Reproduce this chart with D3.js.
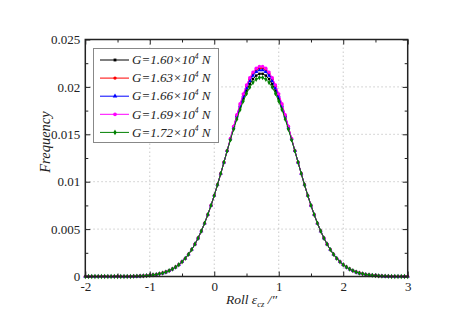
<!DOCTYPE html>
<html><head><meta charset="utf-8">
<script src="https://cdn.jsdelivr.net/npm/d3@7"></script>
<style>body{margin:0;background:#fff}svg{display:block}</style>
</head><body>
<svg id="c" width="474" height="332"></svg>
<script>
const xVals = [-2,-1.95,-1.9,-1.85,-1.8,-1.75,-1.7,-1.65,-1.6,-1.55,-1.5,-1.45,-1.4,-1.35,-1.3,-1.25,-1.2,-1.15,-1.1,-1.05,-1,-0.95,-0.9,-0.85,-0.8,-0.75,-0.7,-0.65,-0.6,-0.55,-0.5,-0.45,-0.4,-0.35,-0.3,-0.25,-0.2,-0.15,-0.1,-0.05,0,0.05,0.1,0.15,0.2,0.25,0.3,0.35,0.4,0.45,0.5,0.55,0.6,0.65,0.7,0.75,0.8,0.85,0.9,0.95,1,1.05,1.1,1.15,1.2,1.25,1.3,1.35,1.4,1.45,1.5,1.55,1.6,1.65,1.7,1.75,1.8,1.85,1.9,1.95,2,2.05,2.1,2.15,2.2,2.25,2.3,2.35,2.4,2.45,2.5,2.55,2.6,2.65,2.7,2.75,2.8,2.85,2.9,2.95,3];

const g160 = [0,0,0,0,0,0,0,0,0,0,0,0,0,0,0,0.00002,0.00003,0.00005,0.00006,0.00009,0.00012,0.00016,0.00021,0.00028,0.00036,0.00047,0.00061,0.00078,0.00099,0.00124,0.00155,0.00191,0.00234,0.00283,0.00341,0.00406,0.00480,0.00562,0.00652,0.00750,0.00855,0.00967,0.01084,0.01204,0.01326,0.01446,0.01564,0.01676,0.01781,0.01877,0.01960,0.02029,0.02083,0.02119,0.02138,0.02138,0.02119,0.02083,0.02029,0.01960,0.01877,0.01781,0.01676,0.01564,0.01446,0.01326,0.01204,0.01084,0.00967,0.00855,0.00750,0.00652,0.00562,0.00480,0.00406,0.00341,0.00283,0.00234,0.00191,0.00155,0.00124,0.00099,0.00078,0.00061,0.00047,0.00036,0.00028,0.00021,0.00016,0.00012,0.00009,0.00006,0.00005,0.00003,0.00002,0,0,0,0,0,0];
const g163 = [0,0,0,0,0,0,0,0,0,0,0,0,0,0,0,0.00002,0.00003,0.00005,0.00006,0.00009,0.00012,0.00016,0.00021,0.00028,0.00036,0.00047,0.00061,0.00078,0.00099,0.00124,0.00155,0.00191,0.00234,0.00283,0.00341,0.00406,0.00480,0.00562,0.00652,0.00750,0.00855,0.00967,0.01084,0.01204,0.01326,0.01454,0.01579,0.01699,0.01812,0.01915,0.02005,0.02080,0.02138,0.02177,0.02197,0.02197,0.02177,0.02138,0.02080,0.02005,0.01915,0.01812,0.01699,0.01579,0.01454,0.01326,0.01204,0.01084,0.00967,0.00855,0.00750,0.00652,0.00562,0.00480,0.00406,0.00341,0.00283,0.00234,0.00191,0.00155,0.00124,0.00099,0.00078,0.00061,0.00047,0.00036,0.00028,0.00021,0.00016,0.00012,0.00009,0.00006,0.00005,0.00003,0.00002,0,0,0,0,0,0];
const g166 = [0,0,0,0,0,0,0,0,0,0,0,0,0,0,0,0.00002,0.00003,0.00005,0.00006,0.00009,0.00012,0.00016,0.00021,0.00028,0.00036,0.00047,0.00061,0.00078,0.00099,0.00124,0.00155,0.00191,0.00234,0.00283,0.00341,0.00406,0.00480,0.00562,0.00652,0.00750,0.00855,0.00967,0.01084,0.01204,0.01326,0.01451,0.01574,0.01692,0.01802,0.01902,0.01990,0.02063,0.02119,0.02158,0.02178,0.02178,0.02158,0.02119,0.02063,0.01990,0.01902,0.01802,0.01692,0.01574,0.01451,0.01326,0.01204,0.01084,0.00967,0.00855,0.00750,0.00652,0.00562,0.00480,0.00406,0.00341,0.00283,0.00234,0.00191,0.00155,0.00124,0.00099,0.00078,0.00061,0.00047,0.00036,0.00028,0.00021,0.00016,0.00012,0.00009,0.00006,0.00005,0.00003,0.00002,0,0,0,0,0,0];
const g169 = [0,0,0,0,0,0,0,0,0,0,0,0,0,0,0,0.00002,0.00003,0.00005,0.00006,0.00009,0.00012,0.00016,0.00021,0.00028,0.00036,0.00047,0.00061,0.00078,0.00099,0.00124,0.00155,0.00191,0.00234,0.00283,0.00341,0.00406,0.00480,0.00562,0.00652,0.00750,0.00855,0.00967,0.01084,0.01204,0.01326,0.01456,0.01584,0.01707,0.01822,0.01927,0.02020,0.02096,0.02156,0.02197,0.02217,0.02217,0.02197,0.02156,0.02096,0.02020,0.01927,0.01822,0.01707,0.01584,0.01456,0.01326,0.01204,0.01084,0.00967,0.00855,0.00750,0.00652,0.00562,0.00480,0.00406,0.00341,0.00283,0.00234,0.00191,0.00155,0.00124,0.00099,0.00078,0.00061,0.00047,0.00036,0.00028,0.00021,0.00016,0.00012,0.00009,0.00006,0.00005,0.00003,0.00002,0,0,0,0,0,0];
const g172 = [0,0,0,0,0,0,0,0,0,0,0,0,0,0,0,0.00002,0.00003,0.00005,0.00006,0.00009,0.00012,0.00016,0.00021,0.00028,0.00036,0.00047,0.00061,0.00078,0.00099,0.00124,0.00155,0.00191,0.00234,0.00283,0.00341,0.00406,0.00480,0.00562,0.00652,0.00750,0.00855,0.00967,0.01084,0.01204,0.01326,0.01440,0.01552,0.01660,0.01760,0.01850,0.01929,0.01995,0.02046,0.02080,0.02098,0.02098,0.02080,0.02046,0.01995,0.01929,0.01850,0.01760,0.01660,0.01552,0.01440,0.01326,0.01204,0.01084,0.00967,0.00855,0.00750,0.00652,0.00562,0.00480,0.00406,0.00341,0.00283,0.00234,0.00191,0.00155,0.00124,0.00099,0.00078,0.00061,0.00047,0.00036,0.00028,0.00021,0.00016,0.00012,0.00009,0.00006,0.00005,0.00003,0.00002,0,0,0,0,0,0];

const seriesLabels = ["1.60","1.63","1.66","1.69","1.72"];
const seriesColors = ["#000000","#ff0000","#0000ff","#ff00ff","#008000"];
const xTicks = [-2,-1,0,1,2,3];
const xTickLabels = ["-2","-1","0","1","2","3"];
const xMinor = [-1.5,-0.5,0.5,1.5,2.5];
const yTicks = [0,0.005,0.01,0.015,0.02,0.025];
const yTickLabels = ["0","0.005","0.01","0.015","0.02","0.025"];
const yMinor = [0.0025,0.0075,0.0125,0.0175,0.0225];

const seriesValues = [g160,g163,g166,g169,g172];
const symbols = [d3.symbolSquare,d3.symbolCircle,d3.symbolTriangle,d3.symbolCircle,d3.symbolDiamond];
const symSizes = [6,7,7,9,8];

const L=85.3, R=407.7, T=39.5, B=276.5;
const svg = d3.select("#c");
const font = "'Liberation Serif','Times New Roman',serif";
const x = d3.scaleLinear().domain([-2,3]).range([L,R]);
const y = d3.scaleLinear().domain([0,0.025]).range([B,T]);

// grid
const grid = svg.append("g").attr("stroke","#bdbdbd").attr("stroke-width",0.8).attr("stroke-dasharray","1.5,2.5");
grid.selectAll(".gx").data(xTicks.slice(1,-1)).enter().append("line")
  .attr("x1",d=>x(d)).attr("x2",d=>x(d)).attr("y1",T).attr("y2",B);
grid.selectAll(".gy").data(yTicks.slice(1,-1)).enter().append("line")
  .attr("y1",d=>y(d)).attr("y2",d=>y(d)).attr("x1",L).attr("x2",R);

// series
const line = d3.line().x((d,i)=>x(xVals[i])).y(d=>y(d));
seriesValues.forEach((vals,si)=>{
  const g = svg.append("g");
  g.append("path").attr("d",line(vals)).attr("fill","none").attr("stroke",seriesColors[si]).attr("stroke-width",1);
  g.selectAll("path.m").data(vals).enter().append("path").attr("class","m")
    .attr("d",d3.symbol().type(symbols[si]).size(symSizes[si]))
    .attr("transform",(d,i)=>`translate(${x(xVals[i])},${y(d)})`)
    .attr("fill",seriesColors[si]).attr("stroke","none");
});

// axes
function styleAxis(g){
  g.select(".domain").remove();
  g.selectAll("line").attr("stroke","#222").attr("stroke-width",1);
  g.selectAll("text").attr("font-family",font).attr("font-size",13).attr("fill","#222");
}
svg.append("g").attr("transform",`translate(0,${B})`)
  .call(d3.axisBottom(x).tickValues(xTicks).tickFormat((d,i)=>xTickLabels[i]).tickSize(-5).tickPadding(5)).call(styleAxis);
svg.append("g").attr("transform",`translate(0,${B})`)
  .call(d3.axisBottom(x).tickValues(xMinor).tickFormat("").tickSize(-3)).call(styleAxis);
svg.append("g").attr("transform",`translate(0,${T})`)
  .call(d3.axisTop(x).tickValues(xTicks).tickFormat("").tickSize(-5)).call(styleAxis);
svg.append("g").attr("transform",`translate(0,${T})`)
  .call(d3.axisTop(x).tickValues(xMinor).tickFormat("").tickSize(-3)).call(styleAxis);
svg.append("g").attr("transform",`translate(${L},0)`)
  .call(d3.axisLeft(y).tickValues(yTicks).tickFormat((d,i)=>yTickLabels[i]).tickSize(-5).tickPadding(5)).call(styleAxis);
svg.append("g").attr("transform",`translate(${L},0)`)
  .call(d3.axisLeft(y).tickValues(yMinor).tickFormat("").tickSize(-3)).call(styleAxis);
svg.append("g").attr("transform",`translate(${R},0)`)
  .call(d3.axisRight(y).tickValues(yTicks).tickFormat("").tickSize(-5)).call(styleAxis);
svg.append("g").attr("transform",`translate(${R},0)`)
  .call(d3.axisRight(y).tickValues(yMinor).tickFormat("").tickSize(-3)).call(styleAxis);

svg.append("rect").attr("x",L).attr("y",T).attr("width",R-L).attr("height",B-T)
  .attr("fill","none").attr("stroke","#222").attr("stroke-width",1.5);

// axis titles
const xt = svg.append("text").attr("x",226).attr("y",303.5).attr("text-anchor","start")
  .attr("font-family",font).attr("font-style","italic").attr("font-size",13.5).attr("fill","#222");
xt.append("tspan").text("Roll ε");
xt.append("tspan").attr("font-size",8.5).attr("dy",3).text("cz");
xt.append("tspan").attr("dy",-3).text(" /\u2033");

svg.append("text").attr("transform","translate(50,142) rotate(-90)").attr("text-anchor","middle")
  .attr("font-family",font).attr("font-style","italic").attr("font-size",14.5).attr("fill","#222").text("Frequency");

// legend
const lg = svg.append("g");
lg.append("rect").attr("x",93.5).attr("y",48.5).attr("width",125).attr("height",94)
  .attr("fill","#fff").attr("stroke","#888").attr("stroke-width",1);
seriesLabels.forEach((lab,i)=>{
  const yy = 60 + i*18.1;
  lg.append("line").attr("x1",100).attr("x2",129).attr("y1",yy).attr("y2",yy).attr("stroke",seriesColors[i]).attr("stroke-width",1);
  lg.append("path").attr("d",d3.symbol().type(symbols[i]).size(symSizes[i]+2)).attr("transform",`translate(115,${yy})`).attr("fill",seriesColors[i]);
  const t = lg.append("text").attr("x",132).attr("y",yy+4.2).attr("font-family",font).attr("font-style","italic").attr("font-size",13).attr("fill","#222");
  t.append("tspan").text(`G=${lab}×10`);
  t.append("tspan").attr("font-size",7.5).attr("dy",-5.5).text("4");
  t.append("tspan").attr("dy",5.5).text(" N");
});
</script>
</body></html>
